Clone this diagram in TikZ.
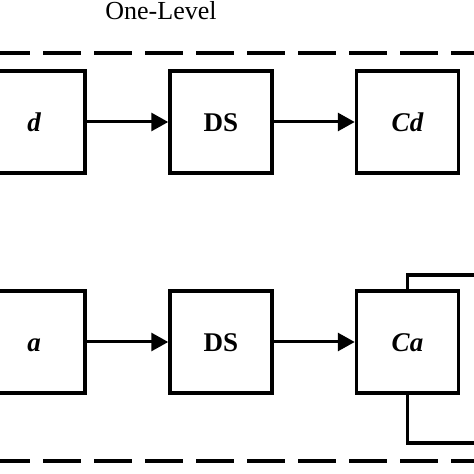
\documentclass[tikz,border=0pt]{standalone}
\usepackage{fontspec}
\setmainfont{Liberation Serif}
\usetikzlibrary{arrows.meta}
\begin{document}
\begin{tikzpicture}[x=1pt,y=1pt,
  blk/.style={draw=black,line width=3.5pt,minimum width=102pt,minimum height=102pt,inner sep=0pt,text height=19pt,text depth=0pt,font=\fontsize{27}{27}\selectfont\bfseries},
  conn/.style={line width=3pt,-{Triangle[length=17pt,width=18pt]}},
  fb/.style={line width=3.5pt},
  sep/.style={line width=4pt,dash pattern=on 38pt off 13pt,dash phase=3pt}]
\useasboundingbox (0,0) rectangle (474,474);
\fill[white] (0,0) rectangle (474,474);
\node[font=\fontsize{26}{26}\selectfont,anchor=base] (title) at (161,454) {One-Level};
\draw[sep] (-5,421) -- (480,421);
\draw[sep] (-5,13) -- (480,13);
% top row
\node[blk] (d) at (34,352) {\itshape d};
\node[blk] (ds1) at (221,352) {DS};
\node[blk] (cd) at (407.5,352) {\itshape Cd};
\draw[conn] (d) -- (ds1);
\draw[conn] (ds1) -- (cd);
% bottom row
\node[blk] (a) at (34,132) {\itshape a};
\node[blk] (ds2) at (221,132) {DS};
\node[blk] (ca) at (407.5,132) {\itshape Ca};
\draw[conn] (a) -- (ds2);
\draw[conn] (ds2) -- (ca);
\coordinate (fbt) at (480,199);
\coordinate (fbb) at (480,31);
\draw[fb] (ca.north) |- (fbt);
\draw[fb] (ca.south) |- (fbb);
\end{tikzpicture}
\end{document}
